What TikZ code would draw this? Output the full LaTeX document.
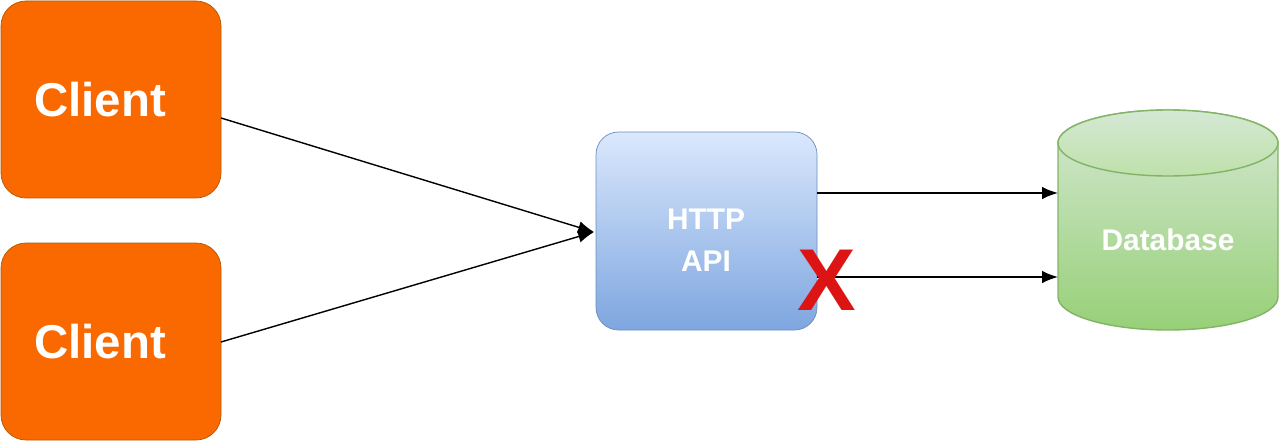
\documentclass[tikz,border=0pt]{standalone}
\usepackage{fontspec}
\setmainfont{Liberation Sans}
\begin{document}
\begin{tikzpicture}[x=0.02cm,y=-0.02cm,
  client/.style={draw=orange!70!black,fill={rgb,255:red,250;green,104;blue,0},rounded corners=0.5cm,inner sep=0},
  arr/.style={-{Latex[length=9pt,width=7pt]},line width=0.8pt}]
\useasboundingbox (0,0) rectangle (1280,442);
\usetikzlibrary{arrows.meta}
\definecolor{dbline}{RGB}{130,179,102}
\path[client] (1,1) rectangle (221,198);
\node[text=white,font=\bfseries\fontsize{27}{30}\selectfont] (c1) at (100,100) {Client};
\path[client] (1,243) rectangle (221,440);
\node[text=white,font=\bfseries\fontsize{27}{30}\selectfont] (c2) at (100,342) {Client};
\shade[top color={rgb,255:red,218;green,232;blue,252},bottom color={rgb,255:red,126;green,166;blue,224},draw={rgb,255:red,108;green,142;blue,191},rounded corners=0.45cm] (596,132) rectangle (817,330);
\node[text=white,font=\bfseries\fontsize{17}{24}\selectfont,align=center] (api) at (706,240) {HTTP\\API};
\coordinate (ain) at (594,232);
\coordinate (c1o) at (221,118);
\coordinate (c2o) at (221,342);
\draw[arr] (c1o) -- (ain);
\draw[arr] (c2o) -- (ain);
% database
\shade[top color={rgb,255:red,213;green,232;blue,212},bottom color={rgb,255:red,151;green,208;blue,119},draw=dbline,line width=0.8pt]
  (1058,143) arc[start angle=180,end angle=360,x radius=110,y radius=33] -- (1278,297)
  arc[start angle=0,end angle=180,x radius=110,y radius=33] -- cycle;
\shade[top color={rgb,255:red,213;green,232;blue,212},bottom color={rgb,255:red,190;green,225;blue,170},draw=dbline,line width=0.8pt]
  (1168,143) ellipse [x radius=110,y radius=33];
\node[text=white,font=\bfseries\fontsize{17}{20}\selectfont] (db) at (1168,240) {Database};
\coordinate (a1) at (817,193); \coordinate (d1) at (1058,193);
\coordinate (a2) at (817,277); \coordinate (d2) at (1058,277);
\draw[arr] (a1) -- (d1);
\draw[arr] (a2) -- (d2);
\node[text={rgb,255:red,220;green,20;blue,20},font=\bfseries\fontsize{50}{50}\selectfont] (x) at (827,280) {X};
\end{tikzpicture}
\end{document}
